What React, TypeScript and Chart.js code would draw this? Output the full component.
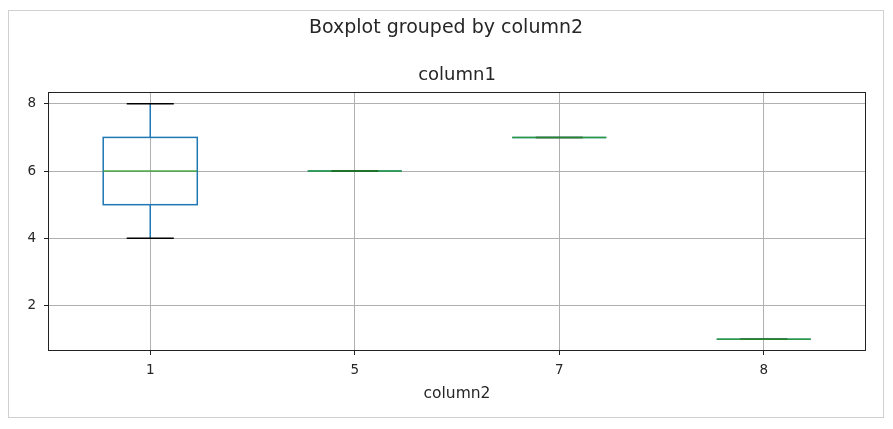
import React, { useEffect, useRef } from "react";
import { Chart, registerables } from "chart.js";

Chart.register(...registerables);

// Data
const categories = ["1", "5", "7", "8"];
const whiskerLow = [4, 6, 7, 1];
const q1 = [5, 6, 7, 1];
const median = [6, 6, 7, 1];
const q3 = [7, 6, 7, 1];
const whiskerHigh = [8, 6, 7, 1];
const yTicks = [2, 4, 6, 8];

const FONT = "'DejaVu Sans', sans-serif";
const TEXT = "#262626";
const BOX_W = 0.46; // fraction of category band
const CAP_W = 0.23;

const boxPlugin = {
  id: "boxplotDraw",
  afterDatasetsDraw(chart: any) {
    const { ctx, scales, chartArea } = chart;
    const xs = scales.x;
    const ys = scales.y;
    const band = xs.getPixelForValue(1) - xs.getPixelForValue(0);
    ctx.save();
    ctx.beginPath();
    ctx.rect(chartArea.left, chartArea.top, chartArea.right - chartArea.left, chartArea.bottom - chartArea.top);
    ctx.clip();
    categories.forEach((_, i) => {
      const cx = xs.getPixelForValue(i);
      const bw = band * BOX_W;
      const cw = band * CAP_W;
      const yq1 = ys.getPixelForValue(q1[i]);
      const yq3 = ys.getPixelForValue(q3[i]);
      const ylo = ys.getPixelForValue(whiskerLow[i]);
      const yhi = ys.getPixelForValue(whiskerHigh[i]);
      const ym = ys.getPixelForValue(median[i]);
      ctx.lineWidth = 1.5;
      // whiskers
      ctx.strokeStyle = "#1f77b4";
      ctx.beginPath();
      ctx.moveTo(cx, yq1);
      ctx.lineTo(cx, ylo);
      ctx.moveTo(cx, yq3);
      ctx.lineTo(cx, yhi);
      ctx.stroke();
      // box
      ctx.strokeRect(cx - bw / 2, yq3, bw, yq1 - yq3);
      // caps
      ctx.strokeStyle = "#000000";
      ctx.beginPath();
      ctx.moveTo(cx - cw / 2, ylo);
      ctx.lineTo(cx + cw / 2, ylo);
      ctx.moveTo(cx - cw / 2, yhi);
      ctx.lineTo(cx + cw / 2, yhi);
      ctx.stroke();
      // median
      ctx.strokeStyle = "rgba(44,160,44,0.85)";
      ctx.beginPath();
      ctx.moveTo(cx - bw / 2, ym);
      ctx.lineTo(cx + bw / 2, ym);
      ctx.stroke();
    });
    ctx.restore();
    // frame
    ctx.save();
    ctx.strokeStyle = "#222";
    ctx.lineWidth = 1;
    ctx.strokeRect(chartArea.left + 0.5, chartArea.top + 0.5, chartArea.right - chartArea.left - 1, chartArea.bottom - chartArea.top - 1);
    ctx.restore();
  },
};

export default function App() {
  const ref = useRef<HTMLCanvasElement>(null);
  useEffect(() => {
    if (!ref.current) return;
    const chart = new Chart(ref.current, {
      type: "bar",
      data: {
        labels: categories,
        datasets: [
          {
            label: "column1",
            data: median.map(() => null) as any,
          },
        ],
      },
      options: {
        animation: false,
        responsive: false,
        maintainAspectRatio: false,
        layout: { padding: 0 },
        plugins: {
          legend: { display: false },
          tooltip: { enabled: false },
          title: {
            display: true,
            text: "Boxplot grouped by column2",
            color: TEXT,
            font: { family: FONT, size: 19, weight: "normal" as any },
            padding: { top: 6, bottom: 24.4 },
          },
          subtitle: {
            display: true,
            fullSize: false,
            text: "column1",
            color: TEXT,
            font: { family: FONT, size: 18, weight: "normal" as any },
            padding: { top: 0, bottom: 6.2 },
          },
        },
        scales: {
          x: {
            type: "category",
            offset: true,
            grid: {
              offset: false,
              color: "#b0b0b0",
              lineWidth: 1,
              tickColor: "#222",
              tickLength: 4,
              drawOnChartArea: true,
            },
            border: { display: false },
            ticks: { color: TEXT, font: { family: FONT, size: 13.5 }, padding: 7, maxRotation: 0 },
            title: {
              display: true,
              text: "column2",
              color: TEXT,
              font: { family: FONT, size: 15.5 },
              padding: { top: 6, bottom: 14 },
            },
            afterFit: (s: any) => {
              s.height = 66;
            },
          },
          y: {
            type: "linear",
            min: 0.65,
            max: 8.35,
            grid: {
              color: "#b0b0b0",
              lineWidth: 1,
              tickColor: "#222",
              tickLength: 4,
            },
            border: { display: false },
            ticks: { color: TEXT, font: { family: FONT, size: 13.5 }, padding: 8 },
            afterBuildTicks: (s: any) => {
              s.ticks = yTicks.map((v) => ({ value: v }));
            },
            afterFit: (s: any) => {
              s.width = 39;
            },
          },
          yRight: {
            type: "linear",
            position: "right",
            display: true,
            grid: { display: false, drawOnChartArea: false, drawTicks: false },
            border: { display: false },
            ticks: { display: false },
            afterFit: (s: any) => {
              s.width = 17;
            },
          },
        },
      },
      plugins: [boxPlugin],
    });
    return () => chart.destroy();
  }, []);
  return (
    <div
      style={{
        marginTop: 2,
        width: 874,
        height: 406,
        border: "1px solid #d0d0d0",
        background: "#fff",
      }}
    >
      <canvas ref={ref} width={874} height={406} style={{ display: "block" }} />
    </div>
  );
}
